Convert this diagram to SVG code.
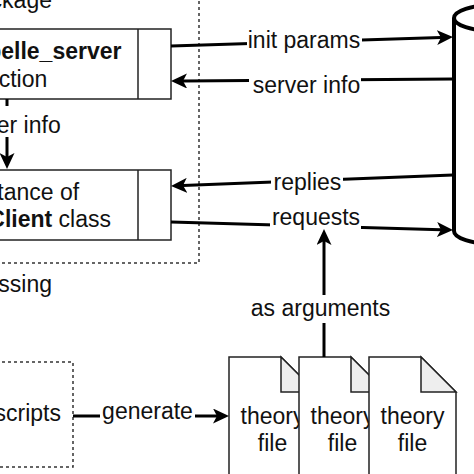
<svg xmlns="http://www.w3.org/2000/svg" width="474" height="474" viewBox="0 0 474 474">
<style>
text{font-family:"Liberation Sans",Arial,sans-serif;font-size:23px;fill:#111}
.b{font-weight:bold}
.box{fill:#fff;stroke:#222;stroke-width:1.5}
.dash{fill:none;stroke:#333;stroke-width:1.5;stroke-dasharray:3 3}
.edge{fill:none;stroke:#000;stroke-width:3}
.lbl{fill:#fff;stroke:none}
.doc{fill:#fff;stroke:#222;stroke-width:1.5;stroke-linejoin:miter}
.fold{fill:#eeeeee;stroke:#222;stroke-width:1.5}
</style>
<defs>
<marker id="arr" markerUnits="userSpaceOnUse" viewBox="0 0 16 15" markerWidth="16" markerHeight="15" refX="4" refY="7.5" orient="auto">
<path d="M0,0 L16,7.5 L0,15 L4,7.5 Z" fill="#000"/>
</marker>
</defs>
<rect width="474" height="474" fill="#fff"/>

<g id="package">
<path class="dash" d="M199,-5 V263 H-5"/>
<text x="52" y="8" text-anchor="end">package</text>
<text x="52" y="292" text-anchor="end">processing</text>
</g>

<g id="server-func">
<rect class="box" x="-130" y="29" width="301" height="70"/>
<line class="box" x1="138" y1="29" x2="138" y2="99"/>
<text x="7" y="59" text-anchor="middle" class="b">start_isabelle_server</text>
<text x="7" y="87" text-anchor="middle">function</text>
</g>

<g id="client">
<rect class="box" x="-130" y="170" width="301" height="70"/>
<line class="box" x1="138" y1="170" x2="138" y2="240"/>
<text x="7.5" y="200" text-anchor="middle">an instance of</text>
<text x="7.5" y="227" text-anchor="middle"><tspan class="b">IsabelleClient</tspan> class</text>
</g>

<g id="server">
<path d="M454,18 A40,13 0 0 1 534,18 V231 A40,13 0 0 1 454,231 Z" fill="#fff" stroke="#000" stroke-width="4"/>
<path d="M454,18 A40,13 0 0 0 534,18" fill="none" stroke="#000" stroke-width="4"/>
</g>

<g id="scripts">
<rect class="dash" x="-100" y="362" width="173" height="105"/>
<text x="61" y="421" text-anchor="end">scripts</text>
</g>

<g id="files">
<g id="file1">
<path class="doc" d="M229,480 V357 H281 L316,392 V480"/>
<path class="fold" d="M281,357 V392 H316 Z"/>
<text x="272.5" y="424" text-anchor="middle">theory</text>
<text x="272.5" y="451" text-anchor="middle">file</text>
</g>
<g id="file2">
<path class="doc" d="M299,480 V357 H351 L386,392 V480"/>
<path class="fold" d="M351,357 V392 H386 Z"/>
<text x="342.5" y="424" text-anchor="middle">theory</text>
<text x="342.5" y="451" text-anchor="middle">file</text>
</g>
<g id="file3">
<path class="doc" d="M369,480 V357 H421 L456,392 V480"/>
<path class="fold" d="M421,357 V392 H456 Z"/>
<text x="412.5" y="424" text-anchor="middle">theory</text>
<text x="412.5" y="451" text-anchor="middle">file</text>
</g>
</g>

<g id="connectors">
<line class="edge" x1="171" y1="46" x2="441" y2="37.4" marker-end="url(#arr)"/>
<rect class="lbl" x="247" y="30" width="115" height="22"/>
<text x="304" y="48" text-anchor="middle">init params</text>

<line class="edge" x1="453" y1="79" x2="183" y2="81" marker-end="url(#arr)"/>
<rect class="lbl" x="249" y="74" width="112" height="24"/>
<text x="306.5" y="93" text-anchor="middle">server info</text>

<line class="edge" x1="7" y1="99" x2="7" y2="157" marker-end="url(#arr)"/>
<rect class="lbl" x="-50" y="106" width="114" height="31"/>
<text x="7" y="133" text-anchor="middle">server info</text>

<line class="edge" x1="453" y1="175" x2="183" y2="185.5" marker-end="url(#arr)"/>
<rect class="lbl" x="271" y="172" width="72" height="24"/>
<text x="307.5" y="190" text-anchor="middle">replies</text>

<line class="edge" x1="171" y1="222" x2="441" y2="229.7" marker-end="url(#arr)"/>
<rect class="lbl" x="270" y="207" width="91" height="23"/>
<text x="316" y="225" text-anchor="middle">requests</text>

<line class="edge" x1="324" y1="357" x2="324" y2="241" marker-end="url(#arr)"/>
<rect class="lbl" x="248" y="295" width="146" height="28"/>
<text x="320.5" y="316" text-anchor="middle">as arguments</text>

<line class="edge" x1="73" y1="416" x2="217" y2="416" marker-end="url(#arr)"/>
<rect class="lbl" x="100" y="403" width="95" height="25"/>
<text x="147.5" y="419" text-anchor="middle">generate</text>
</g>
</svg>
